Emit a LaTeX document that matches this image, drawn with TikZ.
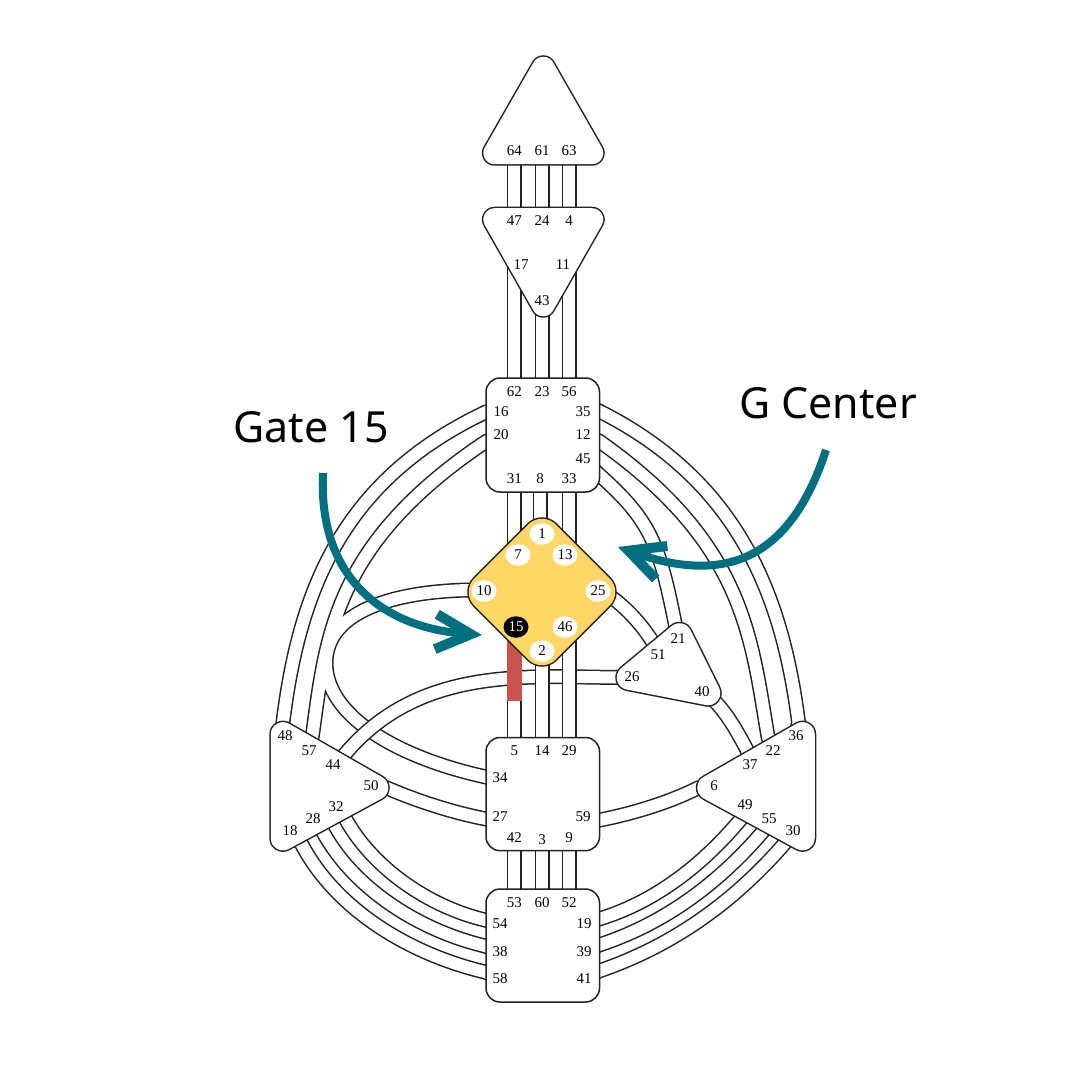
\documentclass[tikz,border=0pt]{standalone}
\usepackage{fontspec}
\setmainfont{Liberation Serif}
\newfontfamily\callout{Noto Sans}
\usetikzlibrary{arrows.meta,shapes.geometric}
\definecolor{inkline}{HTML}{222222}
\definecolor{gcentre}{HTML}{FFD766}
\definecolor{tealarrow}{HTML}{006F80}
\definecolor{gatered}{HTML}{C9534F}
\pgfdeclarelayer{channels}
\pgfdeclarelayer{centres}
\pgfsetlayers{channels,centres,main}
\newcommand{\chan}[6]{
	\draw[channel] (g#1.center) -- (#2) .. controls (#3) and (#4) .. (#5) -- (g#6.center);
	}
\newcommand{\vchan}[2]{
	\draw[channel] (g#1.center) -- (g#1.center |- g#2.center);
	}
\newcommand{\corners}[3]{
	\draw[inkline,fill=inkline,line join=round,line width=2*#1+0.3mm] #3;
	\draw[#2,fill=#2,line join=round,line width=2*#1-0.3mm] #3;
	}
\begin{document}
\begin{tikzpicture}[
      x=0.2mm,y=-0.2mm,
      channel/.style={draw=inkline,line width=0.3mm,double=white,double distance=2.4mm},
      chanblack/.style={draw=inkline,line width=3mm},
      chanwhite/.style={draw=white,line width=2.4mm},
      square/.style={draw=inkline,fill=white,line width=0.3mm,rounded corners=2.8mm},
      gate/.style={font=\fontsize{8.5}{10}\selectfont,inner sep=0pt,text=black},
      bubble/.style={gate,ellipse,fill=white,minimum width=5mm,minimum height=4.3mm},
      callarrow/.style={draw=tealarrow,line width=1.6mm,-{Straight Barb[length=7mm,width=7mm,line width=2mm]}},
      calltext/.style={font=\callout\fontsize{24.4}{28}\selectfont,inner sep=0pt}
    ]
    \useasboundingbox (0,0) rectangle (1080,1080);
    %gates on the plain centres
    \foreach \gx/\gy/\g in {514.3/151/64,542/151/61,569/151/63,514.3/221/47,542/221/24,569/221/4,
      521/265/17,563/265/11,542/301/43,514.3/392/62,542/392/23,569/392/56,
      501/412/16,501/435/20,583/412/35,583/435/12,583/459/45,514.3/479/31,540/479/8,569/479/33,
      678/639/21,658/655/51,632/677/26,702/692/40,
      514.3/751/5,542/751/14,569/751/29,500/778/34,500/817/27,583/817/59,514.3/838/42,542/840/3,569/838/9,
      514.3/903/53,542/903/60,569/903/52,500/924/54,500/952/38,500/979/58,584/924/19,584/952/39,584/979/41,
      285/736/48,309/751/57,333/765/44,371/786/50,336/807/32,313/819/28,290/831/18,
      796/736/36,773/751/22,750/765/37,714/786/6,745/805/49,769/819/55,793/831/30}
      \node[gate] (g\g) at (\gx,\gy) {\g};
    %gates on the defined centre
    \foreach \gx/\gy/\g in {542/534/1,518/555/7,565/555/13,484/591/10,598/591/25,565/627/46,542/651/2}
      \node[bubble] (g\g) at (\gx,\gy) {\g};
    \node[bubble,fill=black,text=white] (g15) at (516,627) {15};

    \begin{pgfonlayer}{channels}
    % Draw the side arcs
    \chan{16}{486,412}{340,481}{299,594}{283,722}{48}
    \chan{35}{599,411}{738,481}{782,594}{798.5,722}{36}
    \chan{12}{599,441}{745,544}{751,637}{768,737}{22}
    \chan{45}{599.5,475}{649.5,520}{658.6,541}{675,623}{21}
    \chan{25}{614,599}{628,610}{642,625}{652,641}{51}
    \chan{40}{715,701.5}{728,715}{738,733}{747,750}{37}
    % Two channels sharing one outline
    \foreach \sty in {chanblack,chanwhite}{
      \draw[\sty] (g20.center) -- (486,441.5) .. controls (333,544) and (326,637) .. (312.5,735) -- (g57.center);
      \draw[\sty] (g10.center) -- (468,590) .. controls (385,592) and (326,615) .. (326,663)
        .. controls (326,715) and (395,757) .. (486,777) -- (g34.center);
    }
    \chan{26}{620,677.5}{530,677}{420,665}{345,754}{44}
    \chan{27}{486,819}{450,812}{415,800}{387,788}{50}
    \chan{59}{600,820}{635,813}{670,802}{698,788}{6}
    % Draw the lower arcs
    \chan{54}{485,920}{430,907}{373,869}{345,818}{32}
    \chan{38}{485,946}{421.5,931}{355,890.5}{323,832}{28}
    \chan{58}{485,972}{413,955}{337,912}{301,843}{18}
    \chan{19}{599,919}{652,903}{700,868}{741,819}{49}
    \chan{39}{599,945}{662,924.5}{716.5,885.5}{762.5,832}{55}
    \chan{41}{599,971}{672,946}{733,903}{785,843}{30}
    % Draw the spine
    \vchan{64}{47}
    \vchan{61}{24}
    \vchan{63}{4}
    \vchan{62}{17}
    \vchan{23}{43}
    \vchan{56}{11}
    \vchan{31}{7}
    \vchan{8}{1}
    \vchan{33}{13}
    \vchan{5}{15}
    \vchan{14}{2}
    \vchan{29}{46}
    \vchan{42}{53}
    \vchan{3}{60}
    \vchan{9}{52}
    \coordinate (redend) at (514.3,701);
    \draw[gatered,line width=3mm] (g5.center |- g15.center) -- (redend);
    \end{pgfonlayer}

    \begin{pgfonlayer}{centres}
    \corners{2.4mm}{white}{(543.3,68) -- (592,153) -- (494.6,153) -- cycle}
    \corners{2.4mm}{white}{(494.6,219.5) -- (592,219.5) -- (543.3,305) -- cycle}
    \draw[square] (486,378) rectangle (599.5,492);
    \corners{4mm}{gcentre}{(542,538) -- (596,592) -- (542,646) -- (488,592) -- cycle}
    \corners{2.6mm}{white}{(629,677.5) -- (679.5,635.5) -- (708,693) -- cycle}
    \draw[square] (486,737.5) rectangle (599.5,850.7);
    \draw[square] (486,889) rectangle (599.5,1002);
    \corners{2.6mm}{white}{(283,734.4) -- (376,787.7) -- (283,838.1) -- cycle}
    \corners{2.6mm}{white}{(802.5,734.4) -- (709.5,787.7) -- (802.5,838.1) -- cycle}
    \end{pgfonlayer}

    %Name the callouts
    \node[calltext] (gatelabel) at (311,427) {Gate 15};
    \node[calltext] (centrelabel) at (828,403) {G Center};
    \coordinate (gatetail) at (323,473);
    \coordinate (gatetip) at (482,635);
    \coordinate (centretail) at (826,450);
    \coordinate (centretip) at (618,547);
    \draw[callarrow] (gatetail) .. controls (318,580) and (385,628) .. (gatetip);
    \draw[callarrow] (centretail) .. controls (790,560) and (725,585) .. (centretip);
    \end{tikzpicture}
\end{document}
